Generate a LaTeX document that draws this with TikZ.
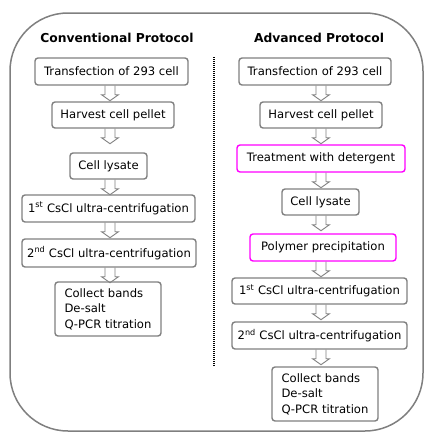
\documentclass[tikz,border=0pt]{standalone}
\usepackage{fontspec}
\setmainfont{DejaVu Sans}
\definecolor{framegray}{HTML}{7F7F7F}
\definecolor{boxgray}{HTML}{808080}
\definecolor{mag}{HTML}{FF00FF}
\begin{document}
\begin{tikzpicture}[x=1pt,y=1pt,
  every node/.style={inner sep=0pt, font=\fontsize{11.6}{15.5}\selectfont},
  pbox/.style={draw=boxgray, line width=1.4pt, rounded corners=3pt, fill=white, minimum height=27pt},
  hbox/.style={pbox, draw=mag},
  lastbox/.style={pbox, align=left, minimum width=106pt, minimum height=54pt},
  ttl/.style={font=\fontsize{12.3}{14}\selectfont\bfseries},
  arrowline/.style={draw=boxgray, line width=0.9pt},
  harrow/.pic={\draw[arrowline] (-5,0) -- (-5,-9) -- (-8.5,-9) -- (0,-15) -- (8.5,-9) -- (5,-9) -- (5,0);}
]
\useasboundingbox (0,0) rectangle (434,-442);
\draw[framegray, line width=1.5pt, rounded corners=58pt] (10,-13) rectangle (423,-431);
\draw[black, line width=1.6pt, dash pattern=on 1pt off 1pt] (214,-57) -- (214,-367);

\coordinate (colL) at (110,0);
\coordinate (colR) at (321,0);

\node[ttl] (tl) at (117,-38) {Conventional Protocol};
\node[ttl] (tr) at (319,-38) {Advanced Protocol};

% left column
\node[pbox, minimum width=153pt] (l1) at (111.5,-71.5) {Transfection of 293 cell};
\node[pbox, minimum width=122pt, minimum height=26pt] (l2) at (113,-115) {Harvest cell pellet};
\node[pbox, minimum width=77pt, minimum height=26pt] (l3) at (108.5,-166) {Cell lysate};
\node[pbox, minimum width=173pt] (l4) at (108.5,-208.5) {1\textsuperscript{st} CsCl ultra-centrifugation};
\node[pbox, minimum width=174pt, minimum height=28pt] (l5) at (109,-253) {2\textsuperscript{nd} CsCl ultra-centrifugation};
\node[lastbox] (l6) at (108,-309) {Collect bands\\De-salt\\Q-PCR titration};

\foreach \n in {l1,l2,l3,l4,l5} \pic at (colL |- \n.south) {harrow};

% right column
\node[pbox, minimum width=152pt] (r1) at (315,-71.5) {Transfection of 293 cell};
\node[pbox, minimum width=122pt, minimum height=26pt] (r2) at (321,-115) {Harvest cell pellet};
\node[hbox, minimum width=168pt] (r3) at (321,-158.5) {Treatment with detergent};
\node[pbox, minimum width=77pt, minimum height=26pt] (r4) at (320.5,-202) {Cell lysate};
\node[hbox, minimum width=146pt] (r5) at (323,-247.5) {Polymer precipitation};
\node[pbox, minimum width=175pt, minimum height=26pt] (r6) at (319.5,-291) {1\textsuperscript{st} CsCl ultra-centrifugation};
\node[pbox, minimum width=175pt] (r7) at (319.5,-335.5) {2\textsuperscript{nd} CsCl ultra-centrifugation};
\node[lastbox] (r8) at (325,-394) {Collect bands\\De-salt\\Q-PCR titration};

\foreach \n in {r1,r2,r3,r4,r5,r6,r7} \pic at (colR |- \n.south) {harrow};
\end{tikzpicture}
\end{document}
